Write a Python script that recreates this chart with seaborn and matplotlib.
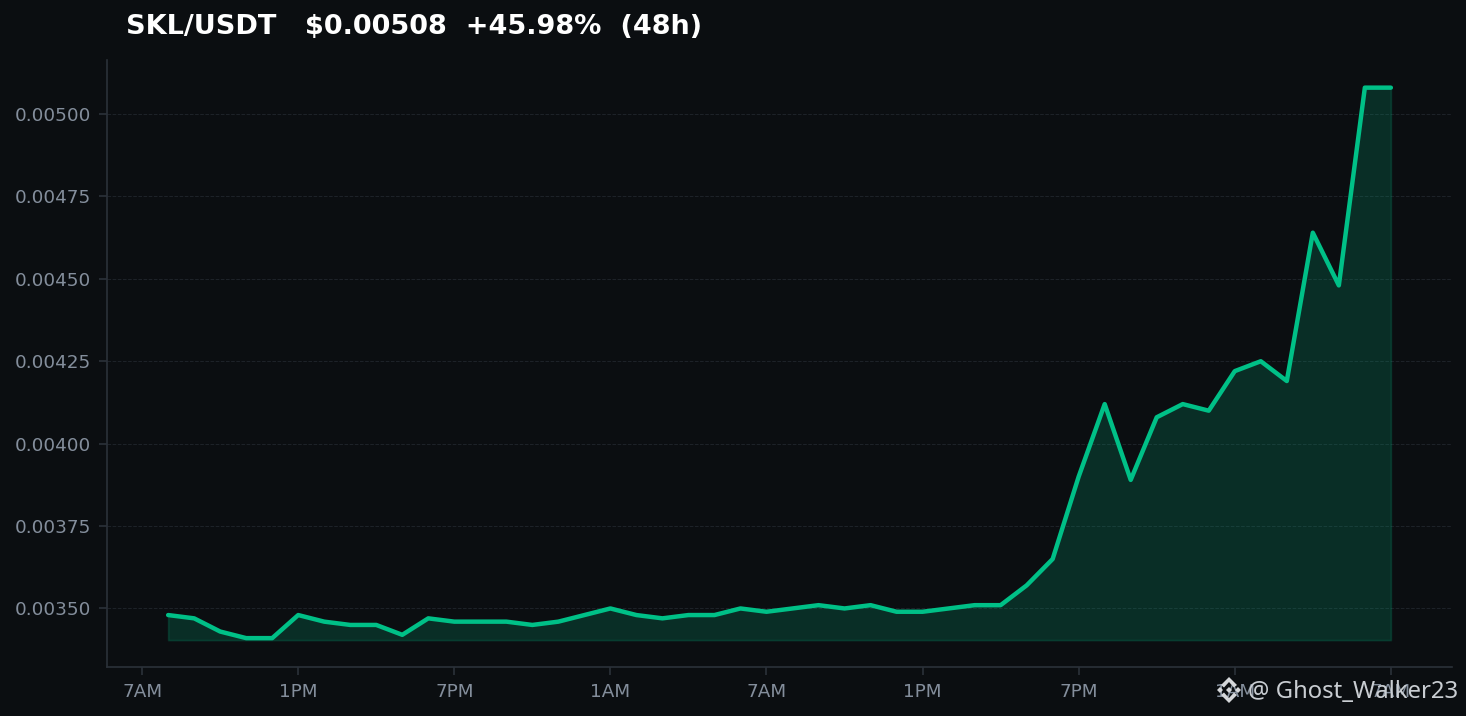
import matplotlib
matplotlib.use("Agg")
import matplotlib.pyplot as plt
import pandas as pd
import seaborn as sns
from matplotlib.patches import Polygon

title_text = "SKL/USDT   $0.00508  +45.98%  (48h)"
watermark = "@ Ghost_Walker23"
hours = list(range(1, 49))
prices = [0.00348, 0.00347, 0.00343, 0.00341, 0.00341, 0.00348, 0.00346, 0.00345,
          0.00345, 0.00342, 0.00347, 0.00346, 0.00346, 0.00346, 0.00345, 0.00346,
          0.00348, 0.00350, 0.00348, 0.00347, 0.00348, 0.00348, 0.00350, 0.00349,
          0.00350, 0.00351, 0.00350, 0.00351, 0.00349, 0.00349, 0.00350, 0.00351,
          0.00351, 0.00357, 0.00365, 0.00390, 0.00412, 0.00389, 0.00408, 0.00412,
          0.00410, 0.00422, 0.00425, 0.00419, 0.00464, 0.00448, 0.00508, 0.00508]
x_tick_pos = [0, 6, 12, 18, 24, 30, 36, 42, 48]
x_tick_labels = ["7AM", "1PM", "7PM", "1AM", "7AM", "1PM", "7PM", "1AM", "7AM"]
y_ticks = [0.0035, 0.00375, 0.004, 0.00425, 0.0045, 0.00475, 0.005]
fill_base = 0.003404

BG = "#0b0e11"
GREEN = "#00c087"
SPINE = "#2b3139"
TICK = "#848e9c"

sns.set_theme(style="dark", rc={"figure.facecolor": BG, "axes.facecolor": BG})
plt.rcParams["font.family"] = ["DejaVu Sans"]

W, H = 1466, 716
fig = plt.figure(figsize=(W / 100, H / 100), dpi=100, facecolor=BG)
ax = fig.add_axes([107 / W, 1 - 667 / H, (1452 - 107) / W, (667 - 59.5) / H], facecolor=BG)

df = pd.DataFrame({"hour": hours, "price": prices})
ax.fill_between(df["hour"], df["price"], fill_base, color=GREEN, alpha=0.18, linewidth=1.2, zorder=2)
sns.lineplot(data=df, x="hour", y="price", color=GREEN, linewidth=3.2, ax=ax, zorder=3, errorbar=None)

ax.set_xlim(-1.35, 50.35)
ax.set_ylim(0.0033224, 0.0051654)
ax.set_xticks(x_tick_pos, x_tick_labels)
ax.set_yticks(y_ticks, [f"{v:.5f}" for v in y_ticks])
ax.set_xlabel("")
ax.set_ylabel("")
ax.tick_params(axis="both", colors=SPINE, labelcolor=TICK, labelsize=13.2, length=6, width=1.2,
               bottom=True, left=True, pad=5.5)
ax.grid(axis="y", color="#2b3139", linestyle="--", linewidth=0.7, alpha=0.6)
ax.grid(axis="x", visible=False)
ax.set_axisbelow(True)
for side in ("top", "right"):
    ax.spines[side].set_visible(False)
for side in ("left", "bottom"):
    ax.spines[side].set_color(SPINE)
    ax.spines[side].set_linewidth(1.2)

fig.text(126 / W, 1 - 27.5 / H, title_text, color="white", fontsize=19.5, fontweight="bold",
         ha="left", va="center")
fig.text(1458 / W, 1 - 691.5 / H, watermark, color="#c9cdd2", fontsize=17.2, family="Noto Sans",
         ha="right", va="center", zorder=10)

# Binance-style logo, in pixel units of the figure
def px(pts):
    return [(x / W, 1 - y / H) for x, y in pts]

cx, cy = 1229, 690
logo = "#d5d7da"
def diamond(dx, dy, r):
    return px([(cx + dx, cy + dy - r), (cx + dx + r, cy + dy), (cx + dx, cy + dy + r), (cx + dx - r, cy + dy)])

for dx, dy in [(0, 0), (-9, 0), (9, 0)]:
    fig.add_artist(Polygon(diamond(dx, dy, 3), transform=fig.transFigure, color=logo, lw=0, zorder=10))
for sy in (-1, 1):
    chev = [(cx - 8, cy + sy * 5), (cx, cy + sy * 13), (cx + 8, cy + sy * 5), (cx + 5, cy + sy * 2.5),
            (cx, cy + sy * 8), (cx - 5, cy + sy * 2.5)]
    fig.add_artist(Polygon(px(chev), transform=fig.transFigure, color=logo, lw=0, zorder=10))

fig.savefig("out.png", dpi=100, facecolor=BG)
